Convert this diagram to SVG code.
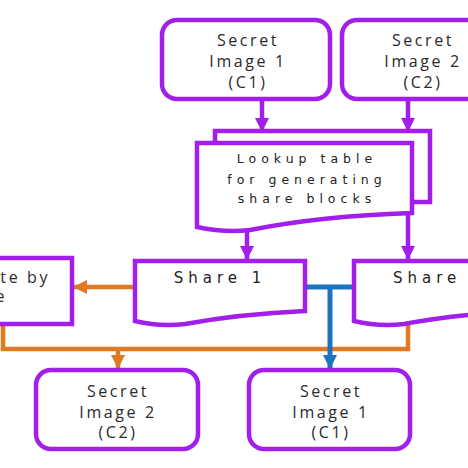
<svg xmlns="http://www.w3.org/2000/svg" width="468" height="468" viewBox="0 0 468 468">
<style>
.box{fill:#fff;stroke:#A21EEA;stroke-width:4.5}
.doc{fill:#fff;stroke:#A21EEA;stroke-width:4.5;stroke-linejoin:miter}
.t{font-family:"Open Sans","Liberation Sans",sans-serif;font-size:16px;fill:#2a2a2a;text-anchor:middle;letter-spacing:2.6px}
.tw{font-family:"DejaVu Sans","Liberation Sans",sans-serif;font-size:12.5px;fill:#222;text-anchor:middle;letter-spacing:5px}
.ts{font-family:"DejaVu Sans","Liberation Sans",sans-serif;font-size:15px;fill:#222;text-anchor:middle;letter-spacing:5px}
.p{fill:none;stroke:#A21EEA;stroke-width:4.5}
.o{fill:none;stroke:#E07A22;stroke-width:4.5}
.b{fill:none;stroke:#1C74BE;stroke-width:5}
</style>
<defs>
<marker id="ap" markerUnits="userSpaceOnUse" markerWidth="16" markerHeight="14" refX="14" refY="7" orient="auto"><path d="M0,0 L14,7 L0,14 Z" fill="#A21EEA"/></marker>
<marker id="ao" markerUnits="userSpaceOnUse" markerWidth="16" markerHeight="14" refX="14" refY="7" orient="auto"><path d="M0,0 L14,7 L0,14 Z" fill="#E07A22"/></marker>
<marker id="ab" markerUnits="userSpaceOnUse" markerWidth="16" markerHeight="14" refX="14" refY="7" orient="auto"><path d="M0,0 L14,7 L0,14 Z" fill="#1C74BE"/></marker>
</defs>
<rect width="468" height="468" fill="#fff"/>
<g id="connectors">
<line class="p" x1="262" y1="99" x2="262" y2="132" marker-end="url(#ap)"/>
<line class="p" x1="408" y1="99" x2="408" y2="132" marker-end="url(#ap)"/>
<line class="p" x1="247" y1="228" x2="247" y2="260" marker-end="url(#ap)"/>
<line class="p" x1="408" y1="212" x2="408" y2="260" marker-end="url(#ap)"/>
<line class="o" x1="135" y1="287" x2="73" y2="287" marker-end="url(#ao)"/>
<polyline class="o" points="3,324 3,349 408,349 408,320"/>
<line class="o" x1="118" y1="349" x2="118" y2="369" marker-end="url(#ao)"/>
<line class="b" x1="305" y1="287" x2="354" y2="287"/>
<line class="b" x1="330" y1="287" x2="330" y2="369" marker-end="url(#ab)"/>
</g>
<g id="secret-image-1-top">
<rect class="box" x="162" y="20" width="168" height="79" rx="15"/>
<text class="t" x="248" y="46">Secret</text>
<text class="t" x="248" y="67">Image 1</text>
<text class="t" x="248" y="88">(C1)</text>
</g>
<g id="secret-image-2-top">
<rect class="box" x="342" y="20" width="168" height="79" rx="15"/>
<text class="t" x="423" y="46">Secret</text>
<text class="t" x="423" y="67">Image 2</text>
<text class="t" x="423" y="88">(C2)</text>
</g>
<g id="lookup-table">
<polyline class="p" points="215,143 215,131 430,131 430,202 412,202"/>
<path class="doc" d="M197,143 H412 V213 Q320,216 250,230 Q225,233 197,227 Z"/>
<text class="tw" x="307" y="163">Lookup table</text>
<text class="tw" x="307" y="184">for generating</text>
<text class="tw" x="307" y="203">share blocks</text>
</g>
<g id="share-1">
<path class="doc" d="M135,261 H305 V311 Q240,314 185,324 Q160,327 135,321 Z"/>
<text class="ts" x="220" y="283">Share 1</text>
</g>
<g id="share-2">
<path class="doc" d="M354,261 H524 V311 Q459,314 404,324 Q379,327 354,321 Z"/>
<text class="ts" x="393" y="283" style="text-anchor:start">Share</text>
</g>
<g id="generate-box">
<rect class="box" x="-20" y="258" width="92" height="66"/>
<text class="t" x="50" y="283" style="text-anchor:end">te by</text>
<text class="t" x="7" y="302" style="text-anchor:end">e</text>
</g>
<g id="secret-image-2-bottom">
<rect class="box" x="36" y="370" width="162" height="79" rx="15"/>
<text class="t" x="118" y="397">Secret</text>
<text class="t" x="118" y="418">Image 2</text>
<text class="t" x="118" y="438">(C2)</text>
</g>
<g id="secret-image-1-bottom">
<rect class="box" x="249" y="370" width="161" height="79" rx="15"/>
<text class="t" x="331" y="397">Secret</text>
<text class="t" x="331" y="418">Image 1</text>
<text class="t" x="331" y="438">(C1)</text>
</g>
</svg>
